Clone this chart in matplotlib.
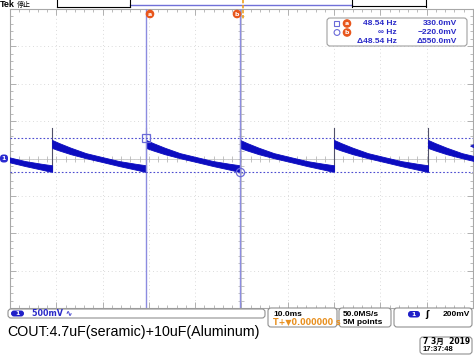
import matplotlib
matplotlib.use("Agg")
import matplotlib.pyplot as plt
import numpy as np
from matplotlib.patches import FancyBboxPatch, Circle, Rectangle

# ---- data ----
jump_times_ms = [-61.2, -40.9, -20.6, -0.3, 20.0, 40.3]      # rising edges
ramp_offset_ms = [0, 1.5, 4, 7.3, 11, 14.5, 18, 20.3]          # time after edge
ramp_upper_mv = [300, 250, 175, 87, 20, -42, -85, -110]        # noise band top
ramp_lower_mv = [170, 130, 70, 5, -60, -123, -180, -220]       # noise band bottom
spike_top_mv = 490
spike_bottom_mv = -200
cursor_a_ms, cursor_b_ms = -20.6, -0.3
cursor_a_mv, cursor_b_mv = 330.0, -220.0
trigger_level_mv = 200

readout_freq = ["48.54 Hz", "\u221e Hz", "\u039448.54 Hz"]
readout_volt = ["330.0mV", "\u2212220.0mV", "\u0394550.0mV"]
caption = "COUT:4.7uF(seramic)+10uF(Aluminum)"

W, H = 474, 355
fig = plt.figure(figsize=(W / 100, H / 100), dpi=100)
fig.patch.set_facecolor("white")


def fx(x):
    return x / W


def fy(y):
    return 1 - y / H


# graticule: 10 x 8 divisions
GL, GR, GT, GB = 10, 473, 9, 308
ax = fig.add_axes([fx(GL), fy(GB), (GR - GL) / W, (GB - GT) / H])
XMIN, XMAX = -50, 50
YHALF = 2420
ax.set_xlim(XMIN, XMAX)
ax.set_ylim(-YHALF, YHALF)
ydiv = YHALF / 4

grid_kw = dict(color="#cfcfcf", lw=0.6, ls=(0, (1, 3.5)), zorder=1)
for i in range(1, 10):
    ax.axvline(XMIN + 10 * i, **grid_kw)
for j in range(1, 8):
    ax.axhline(-YHALF + ydiv * j, **grid_kw)
ax.axhline(0, color="#c8c8c8", lw=0.6, zorder=1)
ax.axvline(0, color="#c8c8c8", lw=0.6, zorder=1)
# centre-line ticks
ax.plot(np.arange(XMIN, XMAX + 0.1, 2), np.zeros(51), ls="none", marker="|",
        ms=4, mew=0.6, color="#b8b8b8", zorder=1)
ax.plot(np.zeros(41), np.arange(-YHALF, YHALF + 1, ydiv / 5), ls="none",
        marker="_", ms=4, mew=0.6, color="#b8b8b8", zorder=1)

ax.set_xticks(np.arange(XMIN, XMAX + 1, 10))
ax.set_xticks(np.arange(XMIN, XMAX + 1, 2), minor=True)
ax.set_yticks(np.arange(-YHALF, YHALF + 1, ydiv))
ax.set_yticks(np.arange(-YHALF, YHALF + 1, ydiv / 5), minor=True)
ax.tick_params(which="both", direction="in", top=True, right=True,
               labelbottom=False, labelleft=False, color="#b0b0b0")
ax.tick_params(which="major", length=4, width=0.7)
ax.tick_params(which="minor", length=2.5, width=0.6)
for s in ax.spines.values():
    s.set_color("#a8a8a8")
    s.set_linewidth(0.8)

# waveform (noise band of the sawtooth)
trace_col = "#0c0cc0"
for t0 in jump_times_ms:
    t = [t0 + o for o in ramp_offset_ms]
    ax.fill_between(t, ramp_lower_mv, ramp_upper_mv, color=trace_col,
                    lw=0.6, ec=trace_col, zorder=4)
    ax.plot([t0, t0], [spike_bottom_mv, spike_top_mv], color="#50506a",
            lw=0.8, zorder=3)

# cursors
cur_col = "#8c8ce0"
ax.axvline(cursor_a_ms, color=cur_col, lw=1.0, zorder=5)
ax.axvline(cursor_b_ms, color=cur_col, lw=1.0, zorder=5)
hcur = dict(color="#4a4ad0", lw=0.8, ls=(0, (1.5, 1.8)), zorder=5)
ax.axhline(cursor_a_mv, **hcur)
ax.axhline(cursor_b_mv, **hcur)
ax.plot([cursor_a_ms], [cursor_a_mv], marker="s", ms=6, mfc="none",
        mec="#6a6ad8", mew=0.9, zorder=6)
ax.plot([cursor_b_ms], [cursor_b_mv], marker="o", ms=6, mfc="none",
        mec="#6a6ad8", mew=0.9, zorder=6)
# trigger level arrow at right edge
ax.annotate("", xy=(XMAX - 1.3, trigger_level_mv),
            xytext=(XMAX + 0.5, trigger_level_mv),
            arrowprops=dict(arrowstyle="-|>", color="#2020c0", lw=0.8,
                            mutation_scale=5), zorder=7,
            annotation_clip=False)

# ---- overlay drawn in figure pixels ----
ov = fig.add_axes([0, 0, 1, 1])
ov.set_xlim(0, W)
ov.set_ylim(H, 0)
ov.axis("off")
ov.patch.set_alpha(0)

orange = "#e8561c"
blue_txt = "#2a2ac8"
mono = "Liberation Sans"
cjk = ["DejaVu Sans", "Noto Sans CJK JP"]

# header
ov.text(0, 4.5, "Tek", fontsize=6.5, fontweight="bold", va="center",
        ha="left", family=mono)
ov.text(17, 4.5, "\u505c\u6b62", fontsize=5, va="center", ha="left",
        family=["Noto Sans CJK JP"])
ov.plot([57, 130], [7, 7], color="black", lw=0.8)
ov.plot([352, 426], [6, 6], color="black", lw=0.8)
ov.plot([130, 352], [5, 5], color="#7070d8", lw=1.0)
for xv in (57, 130, 352, 426):
    ov.plot([xv, xv], [0, 7], color="black", lw=0.8)
ov.plot([243, 243], [0, 20], color="#f0a020", lw=1.2, ls=(0, (2, 1)))


def badge(x, y, letter):
    ov.add_patch(Circle((x, y), 3.6, color=orange, zorder=8))
    ov.text(x, y + 0.3, letter, color="white", fontsize=4.5,
            fontweight="bold", ha="center", va="center", zorder=9)


badge(150, 14, "a")
badge(237, 14, "b")

# cursor readout box
ov.add_patch(FancyBboxPatch((327, 18), 140, 28,
                            boxstyle="round,pad=0,rounding_size=3",
                            fc="white", ec="#a0a0a0", lw=0.8, zorder=7))
ov.add_patch(Rectangle((334, 20.5), 5.5, 5.5, fill=False, ec="#6a6ad8",
                       lw=0.8, zorder=8))
ov.add_patch(Circle((337, 32.5), 2.9, fill=False, ec="#6a6ad8", lw=0.8,
                    zorder=8))
badge(347, 23.5, "a")
badge(347, 32.5, "b")
for k, (f, v) in enumerate(zip(readout_freq, readout_volt)):
    yy = 23.5 + 9 * k
    ov.text(397, yy, f, color=blue_txt, fontsize=6, fontweight="bold",
            ha="right", va="center", family=mono, zorder=9)
    ov.text(457, yy, v, color=blue_txt, fontsize=6, fontweight="bold",
            ha="right", va="center", family=mono, zorder=9)

# channel 1 ground marker
ov.add_patch(FancyBboxPatch((0, 154.5), 8, 8,
                            boxstyle="round,pad=0,rounding_size=3.5",
                            fc="#2a2ad0", ec="none", zorder=8))
ov.text(4, 158.8, "1", color="white", fontsize=4.5, fontweight="bold",
        ha="center", va="center", zorder=9)


# status bar
def box(x0, y0, x1, y1):
    ov.add_patch(FancyBboxPatch((x0, y0), x1 - x0, y1 - y0,
                                boxstyle="round,pad=0,rounding_size=3",
                                fc="white", ec="#909090", lw=0.8, zorder=7))


box(8, 309, 265, 318)
box(268, 308, 337, 327)
box(339, 308, 391, 327)
box(394, 308, 472, 327)
ov.add_patch(FancyBboxPatch((11, 310.5), 13, 6,
                            boxstyle="round,pad=0,rounding_size=3",
                            fc="#2020c8", ec="none", zorder=8))
ov.text(17.5, 313.7, "1", color="white", fontsize=4.5, fontweight="bold",
        ha="center", va="center", zorder=9)
ov.text(32, 313.7, "500mV \u223f", color=blue_txt, fontsize=5.8,
        fontweight="bold", ha="left", va="center", family=cjk, zorder=9)
ov.text(273, 314, "10.0ms", color="black", fontsize=6, fontweight="bold",
        ha="left", va="center", family=mono, zorder=9)
ov.text(273, 322, "T+\u25bc0.000000 s", color="#e89020", fontsize=5.8,
        fontweight="bold", ha="left", va="center", family=cjk, zorder=9)
ov.text(343, 314, "50.0MS/s", color="black", fontsize=6, fontweight="bold",
        ha="left", va="center", family=mono, zorder=9)
ov.text(343, 322, "5M points", color="black", fontsize=6, fontweight="bold",
        ha="left", va="center", family=mono, zorder=9)
ov.add_patch(FancyBboxPatch((408, 311), 12, 6.5,
                            boxstyle="round,pad=0,rounding_size=3",
                            fc="#2020c8", ec="none", zorder=8))
ov.text(414, 314.5, "1", color="white", fontsize=4.5, fontweight="bold",
        ha="center", va="center", zorder=9)
ov.text(427, 314.5, "\u0283", color="black", fontsize=6, fontweight="bold",
        ha="center", va="center", zorder=9)
ov.text(470, 314.5, "200mV", color="black", fontsize=6, fontweight="bold",
        ha="right", va="center", family=mono, zorder=9)

# caption
ov.text(7, 332, caption, color="black", fontsize=10.3, ha="left",
        va="center", family="Liberation Sans")

# date box
box(420, 337, 472, 354)
ov.text(423, 341.5, "7 3\u6708  2019", color="black", fontsize=5.5,
        fontweight="bold", ha="left", va="center", family=cjk, zorder=9)
ov.text(423, 349.5, "17:37:48", color="black", fontsize=5.5,
        fontweight="bold", ha="left", va="center", family=mono, zorder=9)

fig.savefig("out.png", dpi=100, facecolor="white")
